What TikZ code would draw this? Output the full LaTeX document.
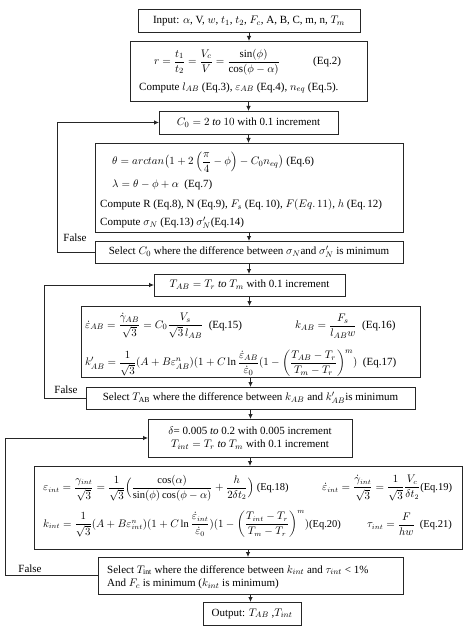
\documentclass[tikz,border=0pt]{standalone}
\usepackage{amsmath}
\usepackage{fontspec}
\setmainfont{Liberation Serif}
\usetikzlibrary{arrows.meta}
\newcommand\myfs{\fontsize{11}{13}\selectfont}
\newcommand\mysfs{\fontsize{10.5}{12.5}\selectfont}
\begin{document}
\begin{tikzpicture}[x=1pt,y=-1pt,
  box/.style={draw=black!85,line width=0.8pt,inner sep=0pt,outer sep=0pt,font=\myfs,fill=white},
  txt/.style={inner sep=0pt,anchor=west,font=\myfs},
  stxt/.style={inner sep=0pt,anchor=west,font=\mysfs},
  arr/.style={-{Latex[length=5pt,width=4.5pt]},line width=0.8pt,draw=black!85},
  lbl/.style={inner sep=0pt,font=\myfs}]
\useasboundingbox[fill=white] (0,0) rectangle (474,631);
% boxes
\node[box,minimum width=222pt,minimum height=23pt] (b1) at (249,21) {Input: $\alpha$, V, $w$, $t_1$, $t_2$, $F_c$, A, B, C, m, n, $T_m$};
\node[box,minimum width=237pt,minimum height=60pt] (b2) at (248.5,71) {};
\node[box,minimum width=179pt,minimum height=23pt] (b3) at (248.5,122.5) {$C_0 = 2\ \mathit{to}\ 10$ with 0.1 increment};
\node[box,minimum width=308pt,minimum height=89pt] (b4) at (249,187.5) {};
\node[box,minimum width=308pt,minimum height=22pt] (b5) at (249,252) {Select $C_0$ where the difference between $\sigma_N$and $\sigma'_N$ is minimum};
\node[box,minimum width=191pt,minimum height=22pt] (b6) at (249.5,285) {$T_{AB} = T_r\ \mathit{to}\ T_m$ with 0.1 increment};
\node[box,minimum width=339pt,minimum height=71pt] (b7) at (250.5,341.5) {};
\node[box,minimum width=329pt,minimum height=22pt] (b8) at (250.5,398) {Select $T_{\mathrm{AB}}$ where the difference between $k_{AB}$ and $k'_{AB}$is minimum};
\node[box,minimum width=204pt,minimum height=38pt,align=center] (b9) at (250,438) {$\delta$= 0.005 \textit{to} 0.2 with 0.005 increment\\[0pt] $T_{int} = T_r\ \mathit{to}\ T_m$ with 0.1 increment};
\node[box,minimum width=428pt,minimum height=83pt] (b10) at (248,507.5) {};
\node[box,minimum width=305pt,minimum height=37pt] (b11) at (250.5,575.5) {};
\node[box,minimum width=98pt,minimum height=23pt] (b12) at (252,613.5) {Output: $T_{AB}$ ,$T_{int}$};
% box 2 text
\node[txt] (t2a) at (154,62) {$r = \dfrac{t_1}{t_2} = \dfrac{V_c}{V} = \dfrac{\sin(\phi)}{\cos(\phi-\alpha)}$};
\node[txt] (t2e) at (313,62) {(Eq.2)};
\node[txt] (t2b) at (139,88) {Compute $l_{AB}$ (Eq.3), $\varepsilon_{AB}$ (Eq.4), $n_{eq}$ (Eq.5).};
% box 4 text
\node[txt] (t4a) at (112,162) {$\theta = arctan\bigl(1+2\left(\dfrac{\pi}{4}-\phi\right)-C_0n_{eq}\bigr)$ (Eq.6)};
\node[txt] (t4b) at (112,185) {$\lambda = \theta - \phi + \alpha$\enspace (Eq.7)};
\node[txt] (t4c) at (100,205) {Compute R (Eq.8), N (Eq.9), $F_s$ (Eq.\,10), $F(Eq.\,11)$, $h$ (Eq.\,12)};
\node[txt] (t4d) at (100,223) {Compute $\sigma_N$ (Eq.13) $\sigma'_N$(Eq.14)};
% box 7 text
\node[txt] (t7a) at (85,326) {$\dot{\varepsilon}_{AB} = \dfrac{\dot{\gamma}_{AB}}{\sqrt{3}} = C_0\dfrac{V_s}{\sqrt{3}\,l_{AB}}$\enspace (Eq.15)};
\node[txt] (t7b) at (295,326) {$k_{AB} = \dfrac{F_s}{l_{AB}w}$\enspace (Eq.16)};
\node[txt] (t7c) at (85,363) {$k'_{AB} = \dfrac{1}{\sqrt3}(A+B\varepsilon^n_{AB})(1+C\ln\dfrac{\dot\varepsilon_{AB}}{\dot\varepsilon_0}(1-\left(\dfrac{T_{AB}-T_r}{T_m-T_r}\right)^{m})$\enspace (Eq.17)};
% box 10 text
\node[stxt] (t10a) at (43,488) {$\varepsilon_{int} = \dfrac{\gamma_{int}}{\sqrt3} = \dfrac{1}{\sqrt3}\Bigl(\dfrac{\cos(\alpha)}{\sin(\phi)\cos(\phi-\alpha)} + \dfrac{h}{2\delta t_2}\Bigr)$ (Eq.18)};
\node[stxt] (t10b) at (322,488) {$\dot\varepsilon_{int} = \dfrac{\dot\gamma_{int}}{\sqrt3} = \dfrac{1}{\sqrt3}\dfrac{V_c}{\delta t_2}$(Eq.19)};
\node[stxt] (t10c) at (43,524) {$k_{int} = \dfrac{1}{\sqrt3}(A+B\varepsilon^n_{int})(1+C\ln\dfrac{\dot\varepsilon_{int}}{\dot\varepsilon_0})(1-\left(\dfrac{T_{int}-T_r}{T_m-T_r}\right)^{m})$(Eq.20)};
\node[stxt] (t10d) at (367,524) {$\tau_{int} = \dfrac{F}{hw}$\enspace (Eq.21)};
% box 11 text
\node[txt] (t11a) at (107,570) {Select $T_{\mathrm{int}}$ where the difference between $k_{int}$ and $\tau_{int}$ < 1\%};
\node[txt] (t11b) at (107,584) {And $F_c$ is minimum ($k_{int}$ is minimum)};
% vertical arrows
\draw[arr] (b1.south) -- (b1.south |- b2.north);
\draw[arr] (b2.south) -- (b2.south |- b3.north);
\draw[arr] (b3.south) -- (b3.south |- b4.north);
\draw[arr] (b4.south) -- (b4.south |- b5.north);
\draw[arr] (b5.south) -- (b5.south |- b6.north);
\draw[arr] (b6.south) -- (b6.south |- b7.north);
\draw[arr] (b7.south) -- (b7.south |- b8.north);
\draw[arr] (b8.south) -- (b8.south |- b9.north);
\draw[arr] (b9.south) -- (b9.south |- b10.north);
\draw[arr] (b10.south) -- (b10.south |- b11.north);
\draw[arr] (b11.south) -- (b11.south |- b12.north);
% feedback loops
\coordinate (l1) at (57,252);
\coordinate (l2) at (44,398);
\coordinate (l3) at (5,575.5);
\draw[arr] (b5.west) -- (l1) |- (b3.west);
\draw[arr] (b8.west) -- (l2) |- (b6.west);
\draw[arr] (b11.west) -- (l3) |- (b9.west);
\node[lbl] (f1) at (75,238) {False};
\node[lbl] (f2) at (66,390) {False};
\node[lbl] (f3) at (30,569) {False};
\end{tikzpicture}
\end{document}
